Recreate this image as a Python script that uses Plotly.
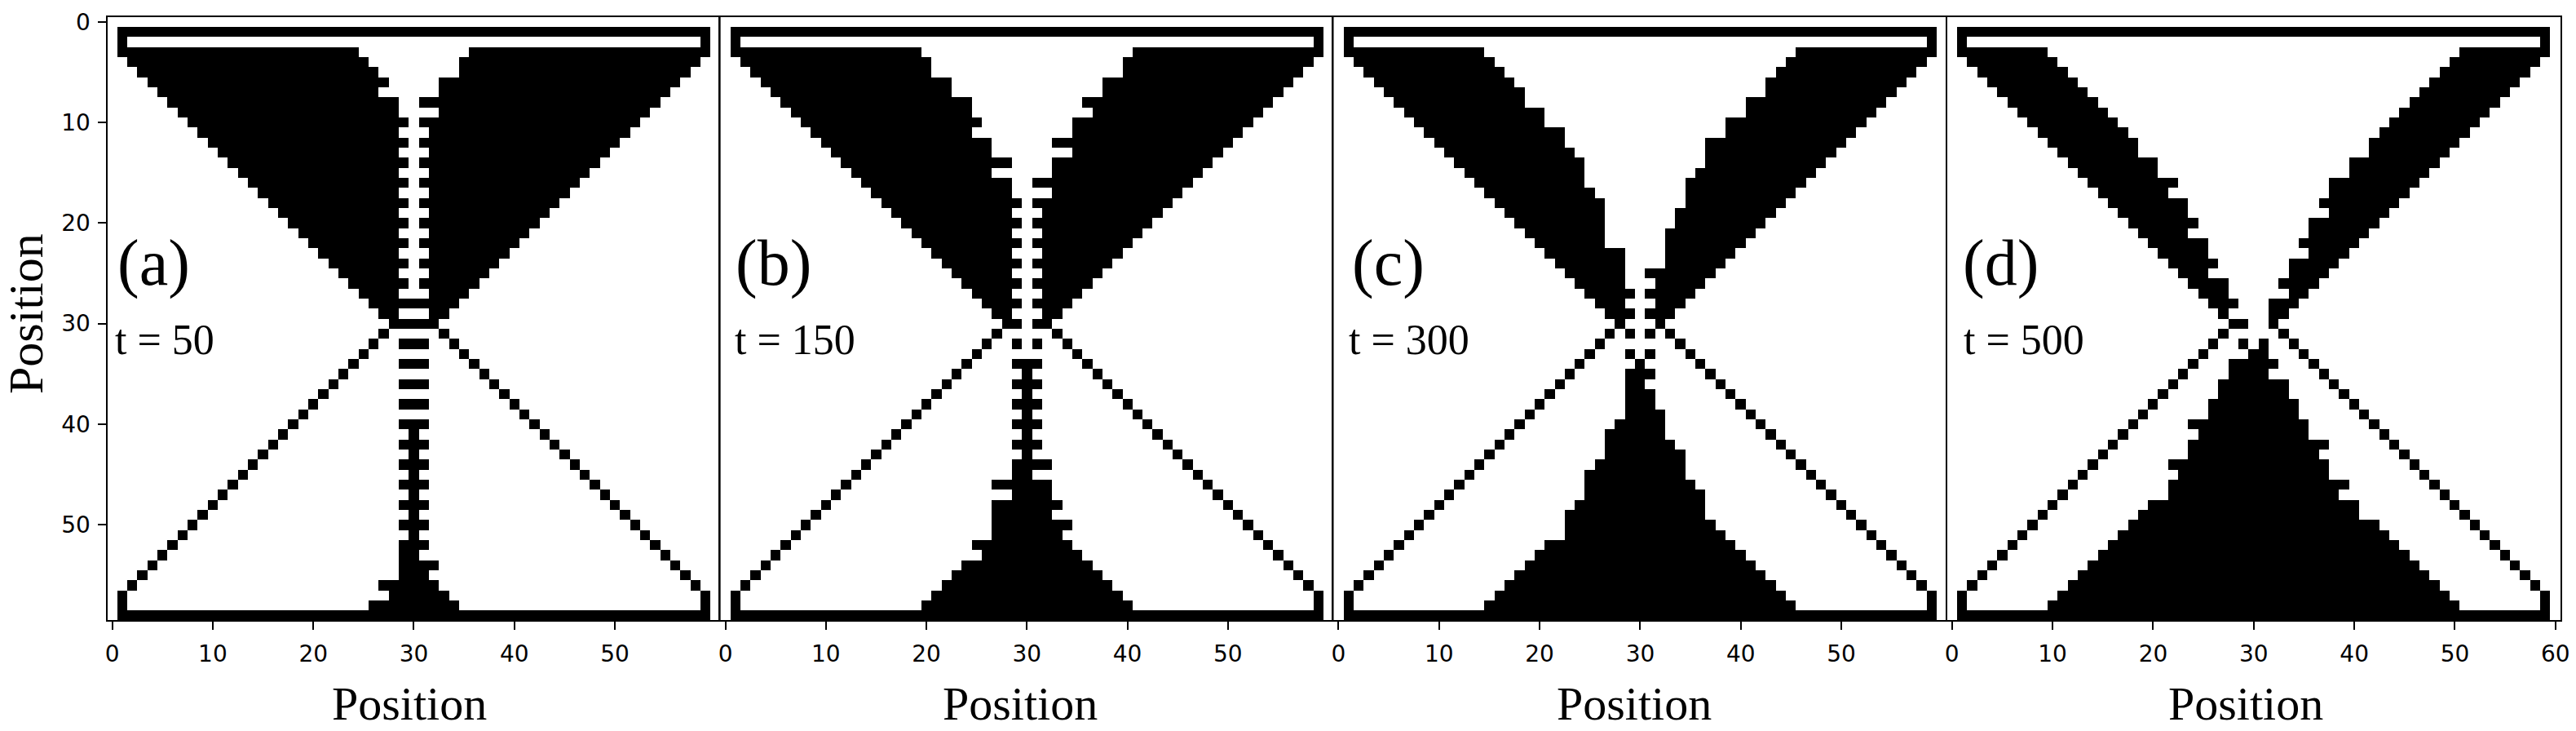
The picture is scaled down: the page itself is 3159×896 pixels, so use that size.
import plotly.graph_objects as go

W, H = 3159, 896
PANEL_EDGES = [131.5, 883.4, 1635.3, 2387.6, 3140.0]
TOP, BOTTOM = 20.7, 760.3

N_COLS = 61
POSITION_TICKS = [0, 10, 20, 30, 40, 50]
LAST_PANEL_TICKS = [0, 10, 20, 30, 40, 50, 60]
X_LABEL = "Position"
Y_LABEL = "Position"
PANEL_LABELS = ["(a)", "(b)", "(c)", "(d)"]
TIME_LABELS = ["t = 50", "t = 150", "t = 300", "t = 500"]

# Black cells per row, row 0 to row 59, as inclusive column runs.
rows_a = [
    "", "1-59", "1 59", "1-24 36-59", "2-25 35-58", "3-26 35-57", "4-27 33-56", "5-26 33-55",
    "6-28 31-54", "7-28 33-53", "8-29 31-52", "9-28 32-51", "10-29 31-50", "11-28 32-49",
    "12-29 31-48", "13-28 32-47", "14-29 31-46", "15-28 32-45", "16-29 31-44", "17-28 32-43",
    "18-29 31-42", "19-28 32-41", "20-29 31-40", "21-28 32-39", "22-29 31-38", "23-28 32-37",
    "24-29 31-36", "25-28 32-35", "26-34", "27-28 32-33", "28-32", "27 33",
    "26 29-31 34", "25 35", "24 29-31 36", "23 37", "22 29-31 38", "21 39", "20 29-31 40", "19 41",
    "18 29-31 42", "17 30 43", "16 29-31 44", "15 30 45", "14 29-31 46", "13 30 47",
    "12 29-31 48", "11 30 49", "10 29-31 50", "9 30 51", "8 29-31 52", "7 30 53",
    "6 29-31 54", "5 29-30 55", "4 29-32 56", "3 29-31 57", "2 27-32 58", "1 28-33 59",
    "1 26-34 59", "1-59",
]
rows_b = [
    "", "1-59", "1 59", "1-19 41-59", "2-20 40-58", "3-20 40-57", "4-22 38-56", "5-22 38-55",
    "6-24 36-54", "7-24 37-53", "8-25 35-52", "9-24 35-51", "10-26 33-50", "11-26 35-49",
    "12-28 33-48", "13-26 33-47", "14-28 31-46", "15-28 33-45", "16-29 31-44", "17-28 32-43",
    "18-29 31-42", "19-28 32-41", "20-29 31-40", "21-28 32-39", "22-29 31-38", "23-28 32-37",
    "24-29 31-36", "25-28 32-35", "26-29 31-34", "27-28 32-33", "28-29 31-32", "27 33",
    "26 29 31 34", "25 35", "24 29-31 36", "23 30 37", "22 29-31 38", "21 30 39", "20 29-31 40",
    "19 30 41", "18 29-31 42", "17 30 43", "16 29-31 44", "15 30 45", "14 29-32 46", "13 29-30 47",
    "12 27-32 48", "11 29-32 49", "10 27-33 50", "9 27-32 51", "8 27-34 52", "7 27-33 53",
    "6 25-34 54", "5 26-35 55", "4 24-36 56", "3 23-37 57", "2 22-38 58", "1 21-39 59",
    "1 20-40 59", "1-59",
]
rows_c = [
    "", "1-59", "1 59", "1-14 46-59", "2-15 45-58", "3-16 44-57", "4-17 43-56", "5-18 43-55",
    "6-18 41-54", "7-20 41-53", "8-20 39-52", "9-22 39-51", "10-22 37-50", "11-23 37-49",
    "12-24 37-48", "13-24 36-47", "14-24 35-46", "15-25 35-45", "16-26 35-44", "17-26 34-43",
    "18-26 34-42", "19-26 33-41", "20-26 33-40", "21-28 33-39", "22-28 33-38", "23-28 31-37",
    "24-28 32-36", "25-29 31-35", "26-28 32-34", "27-29 31-33", "28 32", "27 29 31 33",
    "26 34", "25 29 31 35", "24 30 36", "23 29-31 37", "22 29-30 38", "21 29-31 39", "20 29-31 40",
    "19 29-32 41", "18 28-32 42", "17 27-32 43", "16 27-33 44", "15 27-34 45", "14 26-34 46",
    "13 25-34 47", "12 25-35 48", "11 25-36 49", "10 24-36 50", "9 23-36 51", "8 23-37 52",
    "7 23-38 53", "6 21-39 54", "5 20-40 55", "4 19-41 56", "3 18-42 57", "2 17-43 58",
    "1 16-44 59", "1 15-45 59", "1-59",
]
rows_d = [
    "", "1-59", "1 59", "1-9 51-59", "2-10 50-58", "3-11 49-57", "4-12 48-56", "5-13 47-55",
    "6-14 46-54", "7-15 45-53", "8-16 44-52", "9-17 43-51", "10-18 42-50", "11-18 42-49",
    "12-20 40-48", "13-20 40-47", "14-22 38-46", "15-21 38-45", "16-23 37-44", "17-23 38-43",
    "18-24 36-42", "19-23 36-41", "20-25 35-40", "21-25 36-39", "22-26 34-38", "23-25 34-37",
    "24-27 33-36", "25-27 34-35", "26-28 32-34", "27 32-33", "28-29 32", "27 33",
    "26 29 31 34", "25 30-31 35", "24 28-32 36", "23 28-31 37", "22 27-33 38", "21 27-33 39",
    "20 26-34 40", "19 26-34 41", "18 24-35 42", "17 25-35 43", "16 24-37 44", "15 24-36 45",
    "14 22-37 46", "13 23-37 47", "12 22-39 48", "11 22-38 49", "10 20-40 50", "9 19-40 51",
    "8 18-42 52", "7 17-43 53", "6 16-44 54", "5 15-45 55", "4 14-46 56", "3 13-47 57",
    "2 12-48 58", "1 11-49 59", "1 10-50 59", "1-59",
]
ALL_ROWS = [rows_a, rows_b, rows_c, rows_d]


def to_cells(rows):
    grid = []
    for row in rows:
        line = [0] * N_COLS
        for run in row.split():
            first, _, last = run.partition("-")
            for c in range(int(first), int(last or first) + 1):
                line[c] = 1
        grid.append(line)
    return grid


fig = go.Figure()
LABEL_FONT = "Liberation Serif"
TICK_FONT = dict(family="DejaVu Sans", size=28, color="black")

for i, rows in enumerate(ALL_ROWS):
    n = "" if i == 0 else str(i + 1)
    fig.add_trace(go.Heatmap(
        z=to_cells(rows),
        x=list(range(N_COLS)),
        y=list(range(len(rows))),
        xaxis=f"x{n}", yaxis=f"y{n}",
        colorscale=[[0, "white"], [1, "black"]],
        zmin=0, zmax=1, showscale=False,
    ))
    common = dict(showline=True, linecolor="black", linewidth=2, mirror=True, automargin=False,
                  showgrid=False, zeroline=False, ticks="outside", ticklen=10, tickwidth=2,
                  tickcolor="black", tickfont=TICK_FONT, tickmode="array")
    fig.layout[f"xaxis{n}"] = dict(
        domain=[PANEL_EDGES[i] / W, PANEL_EDGES[i + 1] / W],
        range=[-0.5, 60.5], anchor=f"y{n}", ticklabelstandoff=5,
        tickvals=LAST_PANEL_TICKS if i == 3 else POSITION_TICKS, **common)
    yaxis = dict(domain=[1 - BOTTOM / H, 1 - TOP / H], range=[59.5, -0.5], anchor=f"x{n}",
                 ticklabelstandoff=3, **common)
    if i == 0:
        yaxis["tickvals"] = POSITION_TICKS
    else:
        yaxis.update(tickvals=[], ticks="", showticklabels=False)
    fig.layout[f"yaxis{n}"] = yaxis

X_LABEL_CENTERS = [502, 1251, 2003.6, 2754]
LETTER_CENTERS = [188, 948, 1702, 2453]
TIME_LEFTS = [139, 899, 1652, 2406]


def note(text, px, py, size, xanchor="center", angle=0):
    fig.add_annotation(text=text, x=px / W, y=1 - py / H, xref="paper", yref="paper",
                       xanchor=xanchor, yanchor="middle", showarrow=False, textangle=angle,
                       font=dict(family=LABEL_FONT, size=size, color="black"))


for i in range(4):
    note(X_LABEL, X_LABEL_CENTERS[i], 862, 58)
    note(PANEL_LABELS[i], LETTER_CENTERS[i], 322, 80)
    note(TIME_LABELS[i], TIME_LEFTS[i], 416, 52, xanchor="left")
note(Y_LABEL, 32, 385, 60, angle=-90)

fig.update_layout(width=W, height=H, margin=dict(l=0, r=0, t=0, b=0),
                  paper_bgcolor="white", plot_bgcolor="white", showlegend=False)
fig.write_html("out.html", config={"displayModeBar": False},
               post_script="document.body.style.margin='0';document.documentElement.style.overflow='hidden';")
